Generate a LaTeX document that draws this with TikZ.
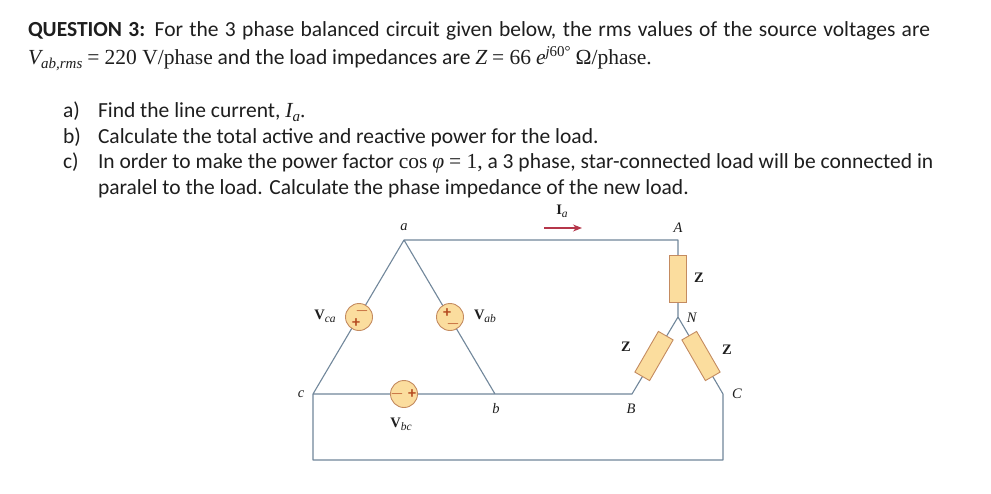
\documentclass[tikz,border=0pt]{standalone}
\usepackage{fontspec}
\setmainfont{Carlito}
\newfontfamily\lblfont{Liberation Serif}
\newcommand{\mser}[1]{{\lblfont #1}}
\newcommand{\mitl}[1]{{\lblfont\itshape #1}}
\newcommand{\msub}[1]{\raisebox{-4pt}{\lblfont\itshape\fontsize{15}{15}\selectfont #1}}
\newcommand{\vsub}[1]{\raisebox{-3pt}{\fontsize{11.5}{12}\selectfont\textit{#1}}}
\usetikzlibrary{arrows.meta}
\definecolor{wire}{HTML}{71879B}
\definecolor{fillc}{HTML}{FBDD9E}
\definecolor{edgec}{HTML}{C48B60}
\definecolor{signc}{HTML}{B4491F}
\definecolor{arrowc}{HTML}{B5364A}
\definecolor{inkc}{HTML}{1E1E1E}
\tikzset{
 wireline/.style={draw=wire,line width=1.1pt},
 source/.style={circle,draw=edgec,fill=fillc,line width=0.9pt,minimum size=27pt,inner sep=0pt},
 load/.style={rectangle,draw=edgec,fill=fillc,line width=0.9pt,minimum width=47pt,minimum height=17pt,inner sep=0pt},
 txt/.style={anchor=base west,inner sep=0pt,outer sep=0pt,font=\fontsize{21.5}{24}\selectfont,text=inkc},
 lbl/.style={inner sep=0pt,font=\lblfont\fontsize{14.5}{16}\selectfont,text=inkc},
 sgn/.style={inner sep=0pt,text=signc,font=\bfseries\fontsize{16}{16}\selectfont},
}
\begin{document}
\begin{tikzpicture}[x=1pt,y=-1pt]
\useasboundingbox[fill=white] (0,0) rectangle (991,493);
% text
\node[txt] (l1) at (28,36) {\makebox[902pt][s]{\textbf{QUESTION 3:} For the 3 phase balanced circuit given below, the rms values of the source voltages are}};
\node[txt] (l2) at (28,64) {\mitl{V}\msub{ab,rms}\ \mser{= 220 V/phase} and the load impedances are \mitl{Z} \mser{= 66} \mitl{e}\raisebox{8pt}{\lblfont\fontsize{15}{15}\selectfont\textit{j}60°}\ \mser{Ω/phase.}};
\node[txt] (q1) at (63,117) {a)};
\node[txt] (t1) at (98,117) {Find the line current, \mitl{I}\msub{a}\mser{.}};
\node[txt] (q2) at (63,143) {b)};
\node[txt] (t2) at (98,143) {Calculate the total active and reactive power for the load.};
\node[txt] (q3) at (63,168) {c)};
\node[txt] (t3) at (98,168) {In order to make the power factor \mser{cos} \mitl{φ} \mser{= 1,} a 3 phase, star-connected load will be connected in};
\node[txt] (t4) at (98,194) {paralel to the load. Calculate the phase impedance of the new load.};
% junctions
\coordinate (a) at (404,240);
\coordinate (b) at (495,394);
\coordinate (c) at (313,394);
\coordinate (A) at (678,240);
\coordinate (B) at (632,394);
\coordinate (C) at (723,394);
\coordinate (N) at (678,317);
\coordinate (cb) at (313,460);
\coordinate (Cb) at (723,460);
% wires
\draw[wireline,line join=round] (b) -- (B) -- (N) -- (C) -- (Cb) -- (cb) -- (c) -- (a) -- (b) (c) -- (b) (a) -- (A) -- (N);
% sources
\node[source] (vca) at (359,317) {};
\node[source] (vab) at (450,317) {};
\node[source] (vbc) at (404,394) {};
\node[sgn] at (362,311) {$-$};
\node[sgn] at (356,323) {+};
\node[sgn] at (447,313) {+};
\node[sgn] at (453,324) {$-$};
\node[sgn] at (397,394) {$-$};
\node[sgn] at (412,394) {+};
% loads
\node[load,rotate=90] (za) at (678,278.5) {};
\node[load,rotate=60] (zb) at (654,356) {};
\node[load,rotate=-60] (zc) at (701,356) {};
% labels
\node[lbl] (la) at (404,227) {\textit{a}};
\node[lbl] (lb) at (496,409) {\textit{b}};
\node[lbl] (lc) at (301,394) {\textit{c}};
\node[lbl] (lA) at (678,228) {\textit{A}};
\node[lbl] (lB) at (631,409) {\textit{B}};
\node[lbl] (lC) at (737,394) {\textit{C}};
\node[lbl] (lN) at (692,318) {\textit{N}};
\node[lbl] (lZa) at (699,278) {\textbf{Z}};
\node[lbl] (lZb) at (626,347) {\textbf{Z}};
\node[lbl] (lZc) at (727,350) {\textbf{Z}};
\node[lbl] (lvca) at (325,316) {\textbf{V}\vsub{ca}};
\node[lbl] (lvab) at (485,316) {\textbf{V}\vsub{ab}};
\node[lbl] (lvbc) at (401,424) {\textbf{V}\vsub{bc}};
\node[lbl] (lIa) at (562,211) {\textbf{I}\vsub{a}};
% current arrow
\coordinate (i1) at (544,228);
\coordinate (i2) at (582,228);
\draw[arrowc,line width=1.1pt,-{Stealth[length=9pt,width=7pt]}] (i1) -- (i2);
\end{tikzpicture}
\end{document}
